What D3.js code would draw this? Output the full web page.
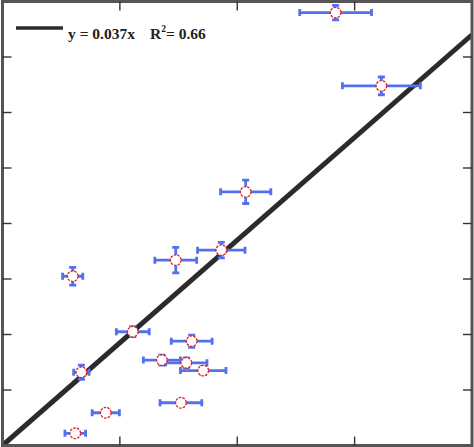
<!DOCTYPE html>
<html>
<head>
<meta charset="utf-8">
<script src="https://cdn.jsdelivr.net/npm/d3@7"></script>
<style>
  html, body { margin: 0; padding: 0; background: #fff; }
  svg { display: block; }
</style>
</head>
<body>
<div id="chart"></div>
<script>
// Scatter with x/y error bars and a through-origin fit, y = 0.037x.

const xVals = [141.9, 161.4, 103.6, 93.2, 73.8, 29.9, 55.5, 80.6, 67.9, 78.3, 85.5, 33.6, 76.0, 44.0, 31.0];
const yVals = [7.80, 6.48, 4.57, 3.52, 3.34, 3.05, 2.05, 1.88, 1.54, 1.49, 1.35, 1.32, 0.77, 0.59, 0.22];
const xErr = [15.3, 16.6, 10.7, 10.1, 8.9, 4.3, 7.0, 8.7, 7.9, 8.8, 9.7, 3.3, 8.9, 5.8, 4.4];
const yErr = [0.13, 0.16, 0.21, 0.14, 0.23, 0.16, 0.09, 0.11, 0.09, 0.09, 0.07, 0.13, 0.05, 0.05, 0.05];
const xTicks = [50, 100, 150];
const yTicks = [1, 2, 3, 4, 5, 6, 7];
const slope = 0.037;
const fitLabel = 'y = 0.037x';
const r2Label = '0.66';

const W = 474, H = 447;
const margin = { top: 1.5, right: 2, bottom: 1.5, left: 2.5 };
const innerW = W - margin.left - margin.right;
const innerH = H - margin.top - margin.bottom;

const pts = xVals.map((x, i) => ({ x, y: yVals[i], ex: xErr[i], ey: yErr[i] }));

const svg = d3.select('#chart').append('svg').attr('width', W).attr('height', H);
const g = svg.append('g').attr('transform', `translate(${margin.left},${margin.top})`);

const x = d3.scaleLinear().domain([0, 200]).range([0, innerW]);
const y = d3.scaleLinear().domain([0, 8]).range([innerH, 0]);

svg.append('clipPath').attr('id', 'plot')
  .append('rect').attr('width', innerW).attr('height', innerH);

// fit line
g.append('line')
  .attr('clip-path', 'url(#plot)')
  .attr('x1', x(0)).attr('y1', y(0)).attr('x2', x(200)).attr('y2', y(slope * 200))
  .style('stroke', '#2b2b2b').attr('stroke-width', 5);

// error bars
const blue = '#5470ee';
const eb = g.append('g').style('stroke', blue).attr('stroke-width', 2.8).style('fill', 'none');
pts.forEach((d) => {
  const cx = x(d.x), cy = y(d.y);
  const x0 = x(d.x - d.ex), x1 = x(d.x + d.ex);
  const y0 = y(d.y - d.ey), y1 = y(d.y + d.ey);
  const c = 3.5;
  eb.append('path').attr('d',
    `M${x0},${cy}H${x1}M${x0},${cy - c}V${cy + c}M${x1},${cy - c}V${cy + c}` +
    `M${cx},${y0}V${y1}M${cx - c},${y0}H${cx + c}M${cx - c},${y1}H${cx + c}`);
});

// markers
g.append('g').selectAll('circle').data(pts).join('circle')
  .attr('cx', (d) => x(d.x)).attr('cy', (d) => y(d.y)).attr('r', 5.3)
  .style('fill', '#fff').style('stroke', '#e02020').attr('stroke-width', 1.3)
  .attr('stroke-dasharray', '2.5,1.2');

// frame + inward ticks
const ink = '#555';
g.append('rect').attr('width', innerW).attr('height', innerH)
  .style('fill', 'none').style('stroke', ink).attr('stroke-width', 3);
const tk = g.append('g').style('stroke', '#333').attr('stroke-width', 1.4);
tk.selectAll('.xb').data(xTicks).join('line')
  .attr('x1', (d) => x(d)).attr('x2', (d) => x(d)).attr('y1', innerH).attr('y2', innerH - 9);
tk.selectAll('.xt').data(xTicks).join('line')
  .attr('x1', (d) => x(d)).attr('x2', (d) => x(d)).attr('y1', 0).attr('y2', 9);
tk.selectAll('.yl').data(yTicks).join('line')
  .attr('y1', (d) => y(d)).attr('y2', (d) => y(d)).attr('x1', 0).attr('x2', 9);
tk.selectAll('.yr').data(yTicks).join('line')
  .attr('y1', (d) => y(d)).attr('y2', (d) => y(d)).attr('x1', innerW).attr('x2', innerW - 9);

// legend
svg.append('line').attr('x1', 16).attr('x2', 63).attr('y1', 28).attr('y2', 28)
  .style('stroke', '#2b2b2b').attr('stroke-width', 3.5);
const lt = svg.append('text').attr('x', 68).attr('y', 38.5)
  .style('font-family', '"Liberation Serif", "DejaVu Serif", serif')
  .style('font-size', '15.5px').style('font-weight', 700).style('fill', '#222');
lt.append('tspan').text(fitLabel);
lt.append('tspan').attr('dx', 15).text('R');
lt.append('tspan').attr('dy', -6.5).style('font-size', '9.5px').text('2');
lt.append('tspan').attr('dy', 6.5).text(`= ${r2Label}`);
</script>
</body>
</html>
